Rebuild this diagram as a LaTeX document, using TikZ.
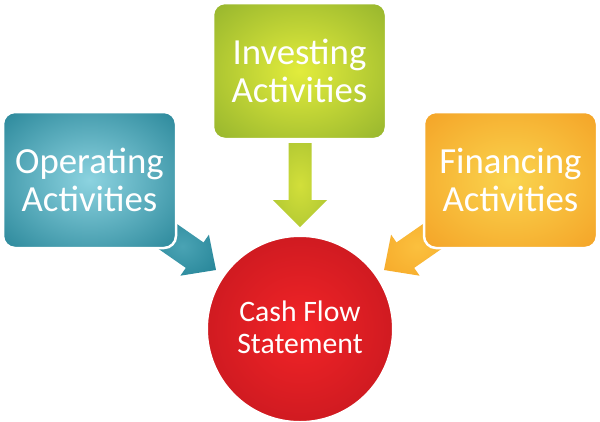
\documentclass[tikz,border=0pt]{standalone}
\usepackage{fontspec}
\setmainfont{Carlito}
\usetikzlibrary{calc}
\definecolor{opout}{HTML}{14768A}
\definecolor{opin}{HTML}{8CD3E0}
\definecolor{invout}{HTML}{84A82A}
\definecolor{invin}{HTML}{E2EC3C}
\definecolor{finout}{HTML}{F3981E}
\definecolor{finin}{HTML}{FAD44E}
\definecolor{cfout}{HTML}{AE111B}
\definecolor{cfin}{HTML}{F22427}
\definecolor{oparrin}{HTML}{4AA3B4}
\definecolor{invarrin}{HTML}{D2DF3A}
\definecolor{invarrout}{HTML}{9BB82E}
\definecolor{finarrin}{HTML}{FBC03E}
\definecolor{finarrout}{HTML}{F4A021}
\pgfdeclareradialshading{opglow}{\pgfpoint{0bp}{0bp}}{color(0bp)=(opin); color(44bp)=(opout); color(72bp)=(opout)}
\pgfdeclareradialshading{invglow}{\pgfpoint{0bp}{0bp}}{color(0bp)=(invin); color(44bp)=(invout); color(72bp)=(invout)}
\pgfdeclareradialshading{finglow}{\pgfpoint{0bp}{0bp}}{color(0bp)=(finin); color(44bp)=(finout); color(72bp)=(finout)}
\pgfdeclareradialshading{cfglow}{\pgfpoint{0bp}{0bp}}{color(0bp)=(cfin); color(50bp)=(cfout); color(72bp)=(cfout)}
\pgfdeclareradialshading{oparrglow}{\pgfpoint{0bp}{0bp}}{color(0bp)=(oparrin); color(50bp)=(opout); color(72bp)=(opout)}
\pgfdeclareradialshading{invarrglow}{\pgfpoint{0bp}{0bp}}{color(0bp)=(invarrin); color(50bp)=(invarrout); color(72bp)=(invarrout)}
\pgfdeclareradialshading{finarrglow}{\pgfpoint{0bp}{0bp}}{color(0bp)=(finarrin); color(50bp)=(finarrout); color(72bp)=(finarrout)}
\tikzset{
  actbox/.style={rounded corners=12pt, minimum width=173pt, minimum height=136pt,
    draw=white, line width=2.5pt, text=white, align=center, inner sep=0pt,
    font=\fontsize{36.8}{38}\selectfont},
  cfcircle/.style={circle, minimum size=186pt, draw=white, line width=2pt,
    text=white, align=center, inner sep=0pt, font=\fontsize{29.7}{32}\selectfont},
  oparrow/.style={shading=oparrglow},
  invarrow/.style={shading=invarrglow},
  finarrow/.style={shading=finarrglow}
}
\newcommand\blockarrow[6]{%
  \coordinate (#2-base) at ($(#2)!#5!(#1)$);
  \shade[#6] ($(#1)!#3!90:(#2)$) -- ($(#2-base)!#3!-90:(#1)$) -- ($(#2-base)!#4!-90:(#1)$)
    -- (#2) -- ($(#2-base)!#4!90:(#1)$) -- ($(#2-base)!#3!90:(#1)$) -- ($(#1)!#3!-90:(#2)$) -- cycle;}
\begin{document}
\begin{tikzpicture}[x=1pt,y=-1pt]
\fill[white] (0,0) rectangle (600,421);
\useasboundingbox (0,0) rectangle (600,421);
% arrows (drawn beneath the boxes)
\coordinate (opT) at (157.6,229.4);
\coordinate (opH) at (216,270);
\coordinate (finT) at (442.4,229.4);
\coordinate (finH) at (384,270);
\coordinate (invT) at (300,143);
\coordinate (invH) at (300,227);
\blockarrow{opT}{opH}{15.5pt}{25pt}{26pt}{oparrow}
\blockarrow{finT}{finH}{15.5pt}{25pt}{26pt}{finarrow}
\blockarrow{invT}{invH}{11.5pt}{27pt}{27pt}{invarrow}
% boxes
\node[actbox, shade, shading=opglow, yshift=1pt] (op) at (89.5,181) {Operating\\Activities};
\node[actbox, shade, shading=invglow] (inv) at (299.5,71) {Investing\\Activities};
\node[actbox, shade, shading=finglow, yshift=1pt] (fin) at (510.5,181) {Financing\\Activities};
% circle
\node[cfcircle, shade, shading=cfglow] (cf) at (300,329) {};
\node[text=white, align=center, font=\fontsize{29.7}{32}\selectfont] (cftext) at (300,327) {Cash Flow\\Statement};
\end{tikzpicture}
\end{document}
